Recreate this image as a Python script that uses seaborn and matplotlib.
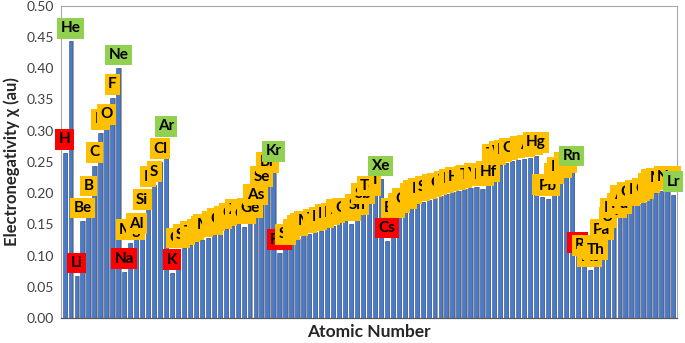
import matplotlib
matplotlib.use("Agg")
import matplotlib.pyplot as plt
import seaborn as sns
import pandas as pd

# element symbols in order of atomic number
symbols = [
    "H", "He",
    "Li", "Be", "B", "C", "N", "O", "F", "Ne",
    "Na", "Mg", "Al", "Si", "P", "S", "Cl", "Ar",
    "K", "Ca", "Sc", "Ti", "V", "Cr", "Mn", "Fe", "Co", "Ni", "Cu", "Zn",
    "Ga", "Ge", "As", "Se", "Br", "Kr",
    "Rb", "Sr", "Y", "Zr", "Nb", "Mo", "Tc", "Ru", "Rh", "Pd", "Ag", "Cd",
    "In", "Sn", "Sb", "Te", "I", "Xe",
    "Cs", "Ba", "La", "Ce", "Pr", "Nd", "Pm", "Sm", "Eu", "Gd", "Tb", "Dy",
    "Ho", "Er", "Tm", "Yb", "Lu", "Hf", "Ta", "W", "Re", "Os", "Ir", "Pt",
    "Au", "Hg", "Tl", "Pb", "Bi", "Po", "At", "Rn",
    "Fr", "Ra", "Ac", "Th", "Pa", "U", "Np", "Pu", "Am", "Cm", "Bk", "Cf",
    "Es", "Fm", "Md", "No", "Lr",
]

# electronegativity (au)
chi = [
    0.265, 0.443,
    0.067, 0.155, 0.190, 0.244, 0.297, 0.305, 0.353, 0.400,
    0.074, 0.120, 0.130, 0.168, 0.205, 0.213, 0.250, 0.286,
    0.072, 0.107, 0.112, 0.117, 0.121, 0.125, 0.128, 0.134, 0.138, 0.142, 0.147, 0.152,
    0.146, 0.155, 0.176, 0.205, 0.228, 0.246,
    0.104, 0.113, 0.120, 0.127, 0.131, 0.134, 0.137, 0.140, 0.145, 0.147, 0.152, 0.155,
    0.150, 0.160, 0.178, 0.190, 0.200, 0.222,
    0.123, 0.155, 0.163, 0.170, 0.178, 0.183, 0.186, 0.189, 0.192, 0.195, 0.198, 0.201,
    0.204, 0.206, 0.208, 0.210, 0.207, 0.213, 0.241, 0.245, 0.248, 0.251, 0.253, 0.254,
    0.256, 0.260, 0.193, 0.190, 0.210, 0.220, 0.228, 0.238,
    0.100, 0.095, 0.077, 0.088, 0.120, 0.140, 0.155, 0.162, 0.175, 0.180, 0.183, 0.186,
    0.195, 0.200, 0.203, 0.205, 0.197,
]

red_labels = ["H", "Li", "Na", "K", "Rb", "Cs", "Fr"]
green_labels = ["He", "Ne", "Ar", "Kr", "Xe", "Rn", "Lr"]

assert len(symbols) == len(chi) == 103

df = pd.DataFrame({"Z": range(1, len(chi) + 1), "symbol": symbols, "chi": chi})
df["Z_shadow"] = df["Z"] + 0.22

sns.set_style("white")
plt.rcParams["font.family"] = ["Lato", "DejaVu Sans"]

fig, ax = plt.subplots(figsize=(6.85, 3.43), dpi=100)
fig.subplots_adjust(left=0.089, right=0.988, bottom=0.073, top=0.983)

# grey shadow behind each bar, then the blue bars
sns.barplot(data=df, x="Z_shadow", y="chi", native_scale=True, width=0.66,
            color="#A3A3A3", saturation=1, errorbar=None, linewidth=0, ax=ax)
sns.barplot(data=df, x="Z", y="chi", native_scale=True, width=0.66,
            color="#4A7BCB", saturation=1, errorbar=None,
            edgecolor="#2E4E8A", linewidth=0.4, ax=ax)

# coloured data labels above the bars, later elements drawn on top
for i, row in df.iterrows():
    if row["symbol"] in red_labels:
        box = "#FF0000"
    elif row["symbol"] in green_labels:
        box = "#92D050"
    else:
        box = "#FFC000"
    ax.annotate(row["symbol"], xy=(row["Z"], row["chi"]), xytext=(0, 4.5),
                textcoords="offset points", ha="center", va="bottom",
                fontsize=11, fontweight="bold", color="black",
                bbox=dict(boxstyle="square,pad=0.22", fc=box, ec="none"),
                zorder=5 + i * 0.01, annotation_clip=False)

ax.set_xlim(0.4, 103.6)
ax.set_ylim(0, 0.5)
ax.set_xticks([])
ax.set_yticks([i * 0.05 for i in range(11)])
ax.set_yticklabels([f"{i * 0.05:.2f}" for i in range(11)], fontsize=10, color="#404040")
ax.tick_params(axis="y", length=0, pad=5)

ax.set_xlabel("Atomic Number", fontsize=12.5, fontweight="bold", labelpad=4)
ax.set_ylabel("Electronegativity \u03c7 (au)", fontsize=12, fontweight="bold", labelpad=5)

for side in ["top", "right", "left"]:
    ax.spines[side].set_visible(True)
    ax.spines[side].set_color("#A6A6A6")
    ax.spines[side].set_linewidth(0.8)
ax.spines["bottom"].set_color("#595959")
ax.spines["bottom"].set_linewidth(0.9)

fig.savefig("out.png", dpi=100)
plt.close(fig)
